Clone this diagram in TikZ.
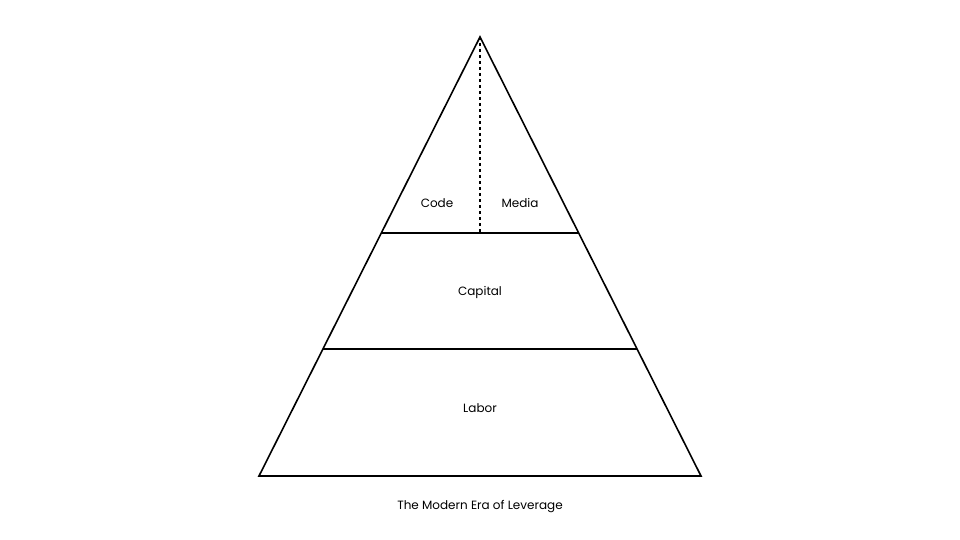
\documentclass[tikz,border=0pt]{standalone}
\usepackage{fontspec}
\setmainfont{Poppins}
\begin{document}
\begin{tikzpicture}[x=1pt,y=-1pt,line width=1.6pt,
  lbl/.style={font=\fontsize{12}{14}\selectfont,inner sep=0pt}]
\useasboundingbox[fill=white] (0,0) rectangle (960,540);
\coordinate (apex) at (480,37);
\coordinate (bl) at (259,476);
\coordinate (br) at (701,476);
\coordinate (t1l) at (381,233);
\coordinate (t1r) at (579,233);
\coordinate (t1m) at (480,233);
\coordinate (t2l) at (323,349);
\coordinate (t2r) at (637,349);
\draw[line join=miter] (apex) -- (br) -- (bl) -- cycle;
\draw (t1l) -- (t1r);
\draw (t2l) -- (t2r);
\draw[dashed,line width=1.4pt] (apex) -- (t1m);
\node[lbl] (code) at (437,203) {Code};
\node[lbl] (media) at (520,203) {Media};
\node[lbl] (capital) at (480,292) {Capital};
\node[lbl] (labor) at (480,408) {Labor};
\node[lbl] (cap) at (480,507) {The Modern Era of Leverage};
\end{tikzpicture}
\end{document}
